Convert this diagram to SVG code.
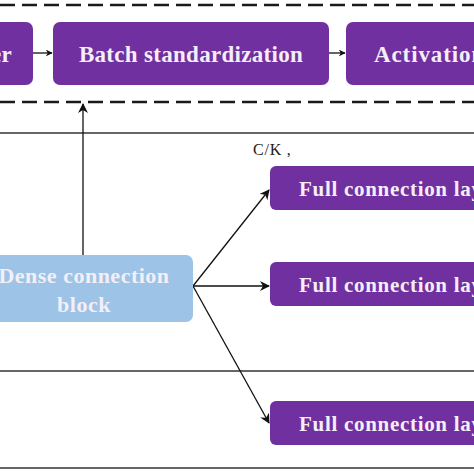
<svg xmlns="http://www.w3.org/2000/svg" width="474" height="474" viewBox="0 0 474 474">
<defs>
<style>
.purple{fill:#7030a0}
.blue{fill:#9dc3e6}
.lbl{font-family:"Liberation Serif","Times New Roman",serif;font-weight:bold;fill:#f4eef8}
.dash{stroke:#1a1a1a;stroke-width:2.5;stroke-dasharray:15 7;fill:none}
.rule{stroke:#333;stroke-width:1.5;fill:none}
.conn{stroke:#111;stroke-width:1.3;fill:none}
</style>
<marker id="ah" viewBox="0 0 10 10" refX="9" refY="5" markerWidth="7" markerHeight="7" markerUnits="userSpaceOnUse" orient="auto">
<path d="M0,0 L10,5 L0,10 L3,5 Z" fill="#111"/>
</marker>
<marker id="ahb" viewBox="0 0 10 10" refX="9" refY="5" markerWidth="10" markerHeight="10" markerUnits="userSpaceOnUse" orient="auto">
<path d="M0,0 L10,5 L0,10 L3,5 Z" fill="#111"/>
</marker>
</defs>
<rect width="474" height="474" fill="#fff"/>
<g id="frame">
<line class="dash" x1="0" y1="5" x2="474" y2="5"/>
<line class="dash" x1="0" y1="102" x2="474" y2="102"/>
<line class="rule" x1="0" y1="133" x2="474" y2="133"/>
<line class="rule" x1="0" y1="371" x2="474" y2="371"/>
<line class="rule" x1="0" y1="468" x2="474" y2="468"/>
</g>
<g id="connectors">
<line class="conn" x1="33" y1="53" x2="52" y2="53" marker-end="url(#ah)"/>
<line class="conn" x1="329" y1="53" x2="345" y2="53" marker-end="url(#ah)"/>
<line class="conn" x1="83" y1="255" x2="83" y2="104" marker-end="url(#ahb)"/>
<line class="conn" x1="193" y1="286" x2="269" y2="190" marker-end="url(#ahb)"/>
<line class="conn" x1="193" y1="286" x2="269" y2="286" marker-end="url(#ahb)"/>
<line class="conn" x1="193" y1="286" x2="269" y2="423" marker-end="url(#ahb)"/>
</g>
<g id="node-left">
<rect class="purple" x="-40" y="22" width="73" height="63" rx="7"/>
<text class="lbl" x="12" y="62" font-size="23" letter-spacing="0.3" text-anchor="end">layer</text>
</g>
<g id="node-batch">
<rect class="purple" x="53" y="22" width="276" height="63" rx="7"/>
<text class="lbl" x="191" y="62" font-size="23" letter-spacing="0.3" text-anchor="middle">Batch standardization</text>
</g>
<g id="node-activation">
<rect class="purple" x="346" y="22" width="160" height="63" rx="7"/>
<text class="lbl" x="374" y="62" font-size="23" letter-spacing="0.9">Activation</text>
</g>
<g id="node-dense">
<rect class="blue" x="-30" y="255" width="223" height="67" rx="7"/>
<text class="lbl" x="84" y="283" font-size="22" letter-spacing="0.5" text-anchor="middle">Dense connection</text>
<text class="lbl" x="84" y="312" font-size="22" letter-spacing="0.5" text-anchor="middle">block</text>
</g>
<g id="label-ck">
<text x="253" y="155" font-family="'Liberation Serif','Times New Roman',serif" font-size="16" letter-spacing="0.8" fill="#222">C/K ,</text>
</g>
<g id="node-fc1">
<rect class="purple" x="270" y="166" width="230" height="44" rx="6"/>
<text class="lbl" x="299" y="196" font-size="21" letter-spacing="0.7">Full connection layer</text>
</g>
<g id="node-fc2">
<rect class="purple" x="270" y="262" width="230" height="44" rx="6"/>
<text class="lbl" x="299" y="292" font-size="21" letter-spacing="0.7">Full connection layer</text>
</g>
<g id="node-fc3">
<rect class="purple" x="270" y="401" width="230" height="44" rx="6"/>
<text class="lbl" x="299" y="431" font-size="21" letter-spacing="0.7">Full connection layer</text>
</g>
</svg>
